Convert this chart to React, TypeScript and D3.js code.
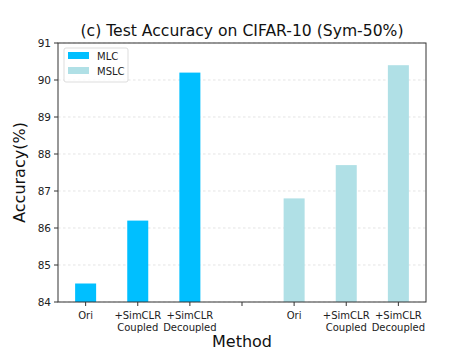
import React from "react";
import * as d3 from "d3";

const categories = ["Ori", "+SimCLR\nCoupled", "+SimCLR\nDecoupled", "", "Ori", "+SimCLR\nCoupled", "+SimCLR\nDecoupled"];
const mlcValues = [84.5, 86.2, 90.2];
const mslcValues = [86.8, 87.7, 90.4];
const yTicks = [84, 85, 86, 87, 88, 89, 90, 91];
const seriesNames = ["MLC", "MSLC"];
const seriesColors = ["#00BFFF", "#B0E0E6"];

export default function App() {
  const W = 474, H = 355;
  const left = 58, right = 426, top = 43, bottom = 302;
  const x = d3.scaleLinear().domain([-0.53, 6.53]).range([left, right]);
  const y = d3.scaleLinear().domain([84, 91]).range([bottom, top]);
  const bw = 21;
  const font = "DejaVu Sans, sans-serif";
  const bars = [
    ...mlcValues.map((v, i) => ({ i, v, c: seriesColors[0] })),
    ...mslcValues.map((v, i) => ({ i: i + 4, v, c: seriesColors[1] })),
  ];
  return (
    <svg width={W} height={H} style={{ position: "absolute", left: 0, top: 0, background: "#fff" }} fontFamily={font}>
      <rect x={0} y={0} width={W} height={H} fill="#fff" />
      {yTicks.map((t) => (
        <line key={"g" + t} x1={left} x2={right} y1={y(t)} y2={y(t)} stroke="#d8d8d8" strokeDasharray="2.5,2.5" strokeWidth={0.7} />
      ))}
      {bars.map((b, k) => (
        <rect key={k} x={x(b.i) - bw / 2} width={bw} y={y(b.v)} height={y(84) - y(b.v)} fill={b.c} />
      ))}
      <rect x={left} y={top} width={right - left} height={bottom - top} fill="none" stroke="#333" strokeWidth={1} />
      {yTicks.map((t) => (
        <g key={"y" + t}>
          <line x1={left - 4} x2={left} y1={y(t)} y2={y(t)} stroke="#333" />
          <text x={left - 7} y={y(t)} dy="0.35em" textAnchor="end" fontSize={10.5} fill="#222">{t}</text>
        </g>
      ))}
      {categories.map((c, i) => (
        <g key={"x" + i}>
          <line x1={x(i)} x2={x(i)} y1={bottom} y2={bottom + 4} stroke="#333" />
          {c.split("\n").map((ln, j) => (
            <text key={j} x={x(i)} y={bottom + 17 + j * 12} textAnchor="middle" fontSize={10} fill="#222">{ln}</text>
          ))}
        </g>
      ))}
      <text x={(left + right) / 2} y={36} textAnchor="middle" fontSize={15.6} fill="#111">(c) Test Accuracy on CIFAR-10 (Sym-50%)</text>
      <text x={(left + right) / 2} y={347} textAnchor="middle" fontSize={16} fill="#111">Method</text>
      <text transform={`translate(25,${(top + bottom) / 2}) rotate(-90)`} textAnchor="middle" fontSize={16} fill="#111">Accuracy(%)</text>
      <g>
        <rect x={64} y={48} width={64} height={34} fill="#fff" fillOpacity={0.8} stroke="#ddd" rx={2} />
        {seriesNames.map((n, i) => (
          <g key={n}>
            <rect x={68} y={52 + i * 15} width={21} height={7} fill={seriesColors[i]} />
            <text x={97} y={56 + i * 15} dy="0.35em" fontSize={10} fill="#222">{n}</text>
          </g>
        ))}
      </g>
    </svg>
  );
}
